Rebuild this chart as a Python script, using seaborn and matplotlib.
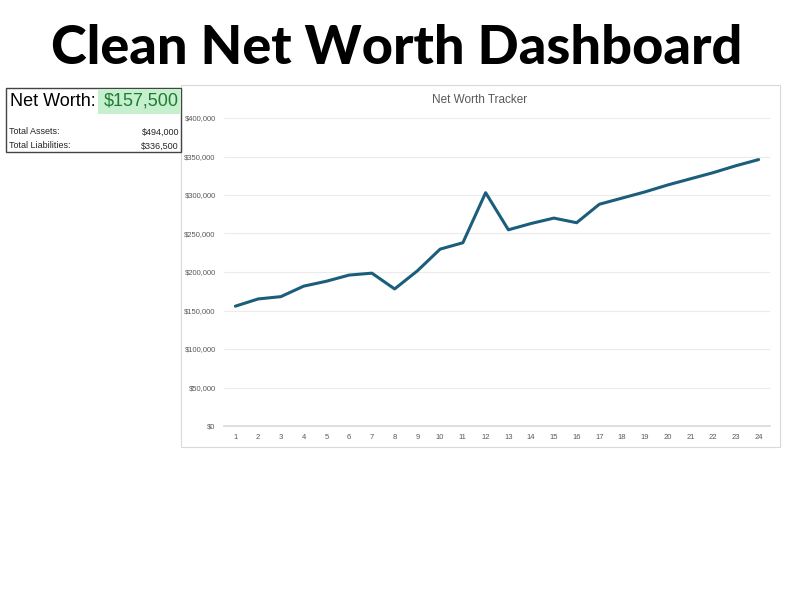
import matplotlib
matplotlib.use("Agg")
import matplotlib.pyplot as plt
import seaborn as sns
import pandas as pd
from matplotlib.ticker import FuncFormatter
from matplotlib.patches import Rectangle

months = list(range(1, 25))
net_worth = [155600, 165000, 168000, 181600, 188000, 196000, 198500, 178000, 201500, 229700,
             238000, 303000, 254800, 263000, 270000, 264000, 288000, 296000, 304000, 313000,
             321000, 329000, 338000, 346000]
title = "Clean Net Worth Dashboard"
chart_title = "Net Worth Tracker"
summary_labels = ["Total Assets:", "Total Liabilities:"]
summary_values = ["$494,000", "$336,500"]
net_worth_text = "$157,500"

sns.set_theme(style="white")
plt.rcParams['font.family'] = ['Liberation Sans', 'DejaVu Sans']
fig = plt.figure(figsize=(7.94, 5.96), dpi=100)
W, H = 794, 596

fig.text(0.5, 1 - 48 / H, title, ha="center", va="center", fontsize=39, fontweight="black",
         color="black", family=["Lato", "DejaVu Sans"])

# chart frame
fig.patches.append(Rectangle((181 / W, 1 - 447 / H), (780 - 181) / W, (447 - 85) / H,
                             transform=fig.transFigure, fill=False, edgecolor="#d9d9d9", lw=0.8))
fig.text(480 / W, 1 - 100 / H, chart_title, ha="center", va="center", fontsize=8.5, color="#595959")

ax = fig.add_axes([224 / W, 1 - 426 / H, (770 - 224) / W, (426 - 118) / H])
df = pd.DataFrame({"month": months, "nw": net_worth})
sns.lineplot(data=df, x="month", y="nw", ax=ax, color="#1b5e7b", lw=2.2)
ax.set_ylim(0, 400000)
ax.set_xlim(0.5, 24.5)
ax.set_yticks(range(0, 400001, 50000))
ax.set_xticks(months)
ax.yaxis.set_major_formatter(FuncFormatter(lambda v, p: f"${v:,.0f}"))
ax.tick_params(labelsize=5.5, colors="#595959", length=0, pad=6)
ax.grid(axis="y", color="#ebebeb", lw=0.8)
ax.set_xlabel(""); ax.set_ylabel("")
for s in ["top", "right", "left"]:
    ax.spines[s].set_visible(False)
ax.spines["bottom"].set_color("#d9d9d9")

# summary box
fig.patches.append(Rectangle((6 / W, 1 - 152 / H), (181 - 6) / W, (152 - 88) / H,
                             transform=fig.transFigure, fill=False, edgecolor="#444444", lw=1))
fig.patches.append(Rectangle((98 / W, 1 - 114 / H), (181 - 98) / W, (114 - 89) / H,
                             transform=fig.transFigure, color="#c6efce", lw=0))
fig.text(10 / W, 1 - 101 / H, "Net Worth:", fontsize=13, va="center", color="black")
fig.text(179 / W, 1 - 101 / H, net_worth_text, fontsize=13, va="center", ha="right", color="#1e7b34")
for i, (l, v) in enumerate(zip(summary_labels, summary_values)):
    y = 1 - (132 + 14 * i) / H
    fig.text(9 / W, y, l, fontsize=6.5, va="center")
    fig.text(179 / W, y, v, fontsize=6.5, va="center", ha="right")

fig.savefig("out.png", dpi=100)
